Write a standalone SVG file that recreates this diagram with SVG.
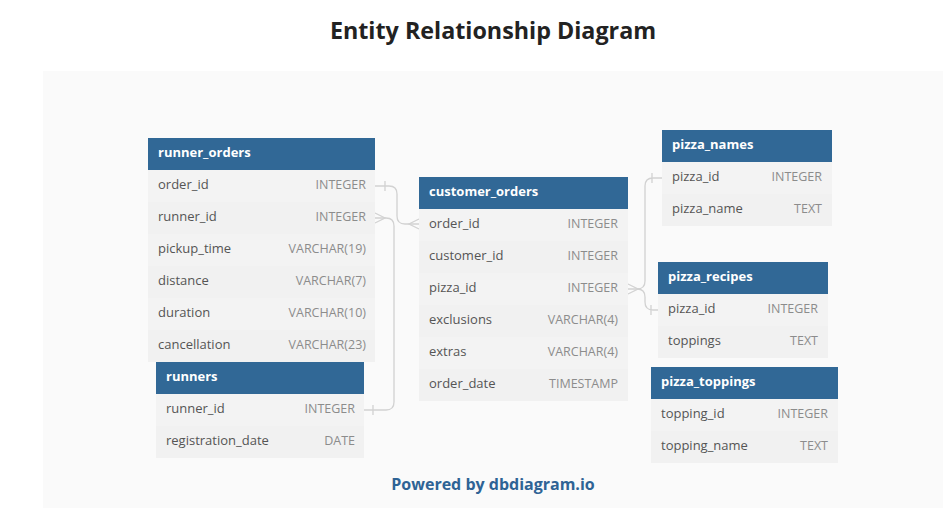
<svg xmlns="http://www.w3.org/2000/svg" width="949" height="511" viewBox="0 0 949 511">
<style>
.title{font-family:"Open Sans","Noto Sans","Liberation Sans",sans-serif;font-weight:700;font-size:23.3px;fill:#222;text-anchor:middle}
.hdr{fill:#316896}
.hdrt{font-family:"Open Sans","Liberation Sans",sans-serif;font-weight:700;font-size:13px;fill:#fff}
.r0{fill:#f3f3f3}
.r1{fill:#f1f1f1}
.fn{font-family:"Open Sans","Liberation Sans",sans-serif;font-size:13px;fill:#555}
.ft{font-family:"Open Sans","Liberation Sans",sans-serif;font-size:12.5px;fill:#8c8c8c;text-anchor:end}
.con{fill:none;stroke:#d2d2d2;stroke-width:1.3}
.pw{font-family:"Open Sans","Liberation Sans",sans-serif;font-weight:700;font-size:16px;fill:#2e6395;text-anchor:middle}
</style>
<rect width="949" height="511" fill="#fff"/>
<text class="title" x="493" y="39">Entity Relationship Diagram</text>
<rect x="43" y="71" width="900" height="437" fill="#fafafa"/>

<g id="connectors">
  <!-- runner_orders.order_id -> customer_orders.order_id -->
  <path class="con" d="M375,186 H389 Q397,186 397,194 V216 Q397,224 405,224 H419"/>
  <path class="con" d="M385,181 V191"/>
  <path class="con" d="M419,219 L409,224 L419,229"/>
  <!-- runners.runner_id -> runner_orders.runner_id -->
  <path class="con" d="M364,410 H386 Q394,410 394,402 V226 Q394,218 386,218 H375"/>
  <path class="con" d="M373,405 V415"/>
  <path class="con" d="M375,213 L385,218 L375,223"/>
  <!-- customer_orders.pizza_id -> pizza_names.pizza_id -->
  <path class="con" d="M628,289 H637 Q645,289 645,281 V186 Q645,178 653,178 H662"/>
  <path class="con" d="M652,173 V183"/>
  <!-- customer_orders.pizza_id -> pizza_recipes.pizza_id -->
  <path class="con" d="M637,289 Q645,289 645,297 V302 Q645,310 653,310 H658"/>
  <path class="con" d="M651,305 V315"/>
  <path class="con" d="M628,284 L638,289 L628,294"/>
</g>

<g id="runner_orders">
  <rect class="hdr" x="148" y="138" width="227" height="32"/>
  <text class="hdrt" x="158" y="157">runner_orders</text>
  <rect class="r0" x="148" y="170" width="227" height="32"/>
  <rect class="r1" x="148" y="202" width="227" height="32"/>
  <rect class="r0" x="148" y="234" width="227" height="32"/>
  <rect class="r1" x="148" y="266" width="227" height="32"/>
  <rect class="r0" x="148" y="298" width="227" height="32"/>
  <rect class="r1" x="148" y="330" width="227" height="32"/>
  <text class="fn" x="158" y="189">order_id</text><text class="ft" x="366" y="189">INTEGER</text>
  <text class="fn" x="158" y="221">runner_id</text><text class="ft" x="366" y="221">INTEGER</text>
  <text class="fn" x="158" y="253">pickup_time</text><text class="ft" x="366" y="253">VARCHAR(19)</text>
  <text class="fn" x="158" y="285">distance</text><text class="ft" x="366" y="285">VARCHAR(7)</text>
  <text class="fn" x="158" y="317">duration</text><text class="ft" x="366" y="317">VARCHAR(10)</text>
  <text class="fn" x="158" y="349">cancellation</text><text class="ft" x="366" y="349">VARCHAR(23)</text>
</g>

<g id="runners">
  <rect class="hdr" x="156" y="362" width="208" height="32"/>
  <text class="hdrt" x="166" y="381">runners</text>
  <rect class="r0" x="156" y="394" width="208" height="32"/>
  <rect class="r1" x="156" y="426" width="208" height="32"/>
  <text class="fn" x="166" y="413">runner_id</text><text class="ft" x="355" y="413">INTEGER</text>
  <text class="fn" x="166" y="445">registration_date</text><text class="ft" x="355" y="445">DATE</text>
</g>

<g id="customer_orders">
  <rect class="hdr" x="419" y="177" width="209" height="32"/>
  <text class="hdrt" x="429" y="196">customer_orders</text>
  <rect class="r0" x="419" y="209" width="209" height="32"/>
  <rect class="r1" x="419" y="241" width="209" height="32"/>
  <rect class="r0" x="419" y="273" width="209" height="32"/>
  <rect class="r1" x="419" y="305" width="209" height="32"/>
  <rect class="r0" x="419" y="337" width="209" height="32"/>
  <rect class="r1" x="419" y="369" width="209" height="32"/>
  <text class="fn" x="429" y="228">order_id</text><text class="ft" x="618" y="228">INTEGER</text>
  <text class="fn" x="429" y="260">customer_id</text><text class="ft" x="618" y="260">INTEGER</text>
  <text class="fn" x="429" y="292">pizza_id</text><text class="ft" x="618" y="292">INTEGER</text>
  <text class="fn" x="429" y="324">exclusions</text><text class="ft" x="618" y="324">VARCHAR(4)</text>
  <text class="fn" x="429" y="356">extras</text><text class="ft" x="618" y="356">VARCHAR(4)</text>
  <text class="fn" x="429" y="388">order_date</text><text class="ft" x="618" y="388">TIMESTAMP</text>
</g>

<g id="pizza_names">
  <rect class="hdr" x="662" y="130" width="170" height="32"/>
  <text class="hdrt" x="672" y="149">pizza_names</text>
  <rect class="r0" x="662" y="162" width="170" height="32"/>
  <rect class="r1" x="662" y="194" width="170" height="32"/>
  <text class="fn" x="672" y="181">pizza_id</text><text class="ft" x="822" y="181">INTEGER</text>
  <text class="fn" x="672" y="213">pizza_name</text><text class="ft" x="822" y="213">TEXT</text>
</g>

<g id="pizza_recipes">
  <rect class="hdr" x="658" y="262" width="170" height="32"/>
  <text class="hdrt" x="668" y="281">pizza_recipes</text>
  <rect class="r0" x="658" y="294" width="170" height="32"/>
  <rect class="r1" x="658" y="326" width="170" height="32"/>
  <text class="fn" x="668" y="313">pizza_id</text><text class="ft" x="818" y="313">INTEGER</text>
  <text class="fn" x="668" y="345">toppings</text><text class="ft" x="818" y="345">TEXT</text>
</g>

<g id="pizza_toppings">
  <rect class="hdr" x="651" y="367" width="187" height="32"/>
  <text class="hdrt" x="661" y="386">pizza_toppings</text>
  <rect class="r0" x="651" y="399" width="187" height="32"/>
  <rect class="r1" x="651" y="431" width="187" height="32"/>
  <text class="fn" x="661" y="418">topping_id</text><text class="ft" x="828" y="418">INTEGER</text>
  <text class="fn" x="661" y="450">topping_name</text><text class="ft" x="828" y="450">TEXT</text>
</g>

<text class="pw" x="493" y="490">Powered by dbdiagram.io</text>
</svg>
